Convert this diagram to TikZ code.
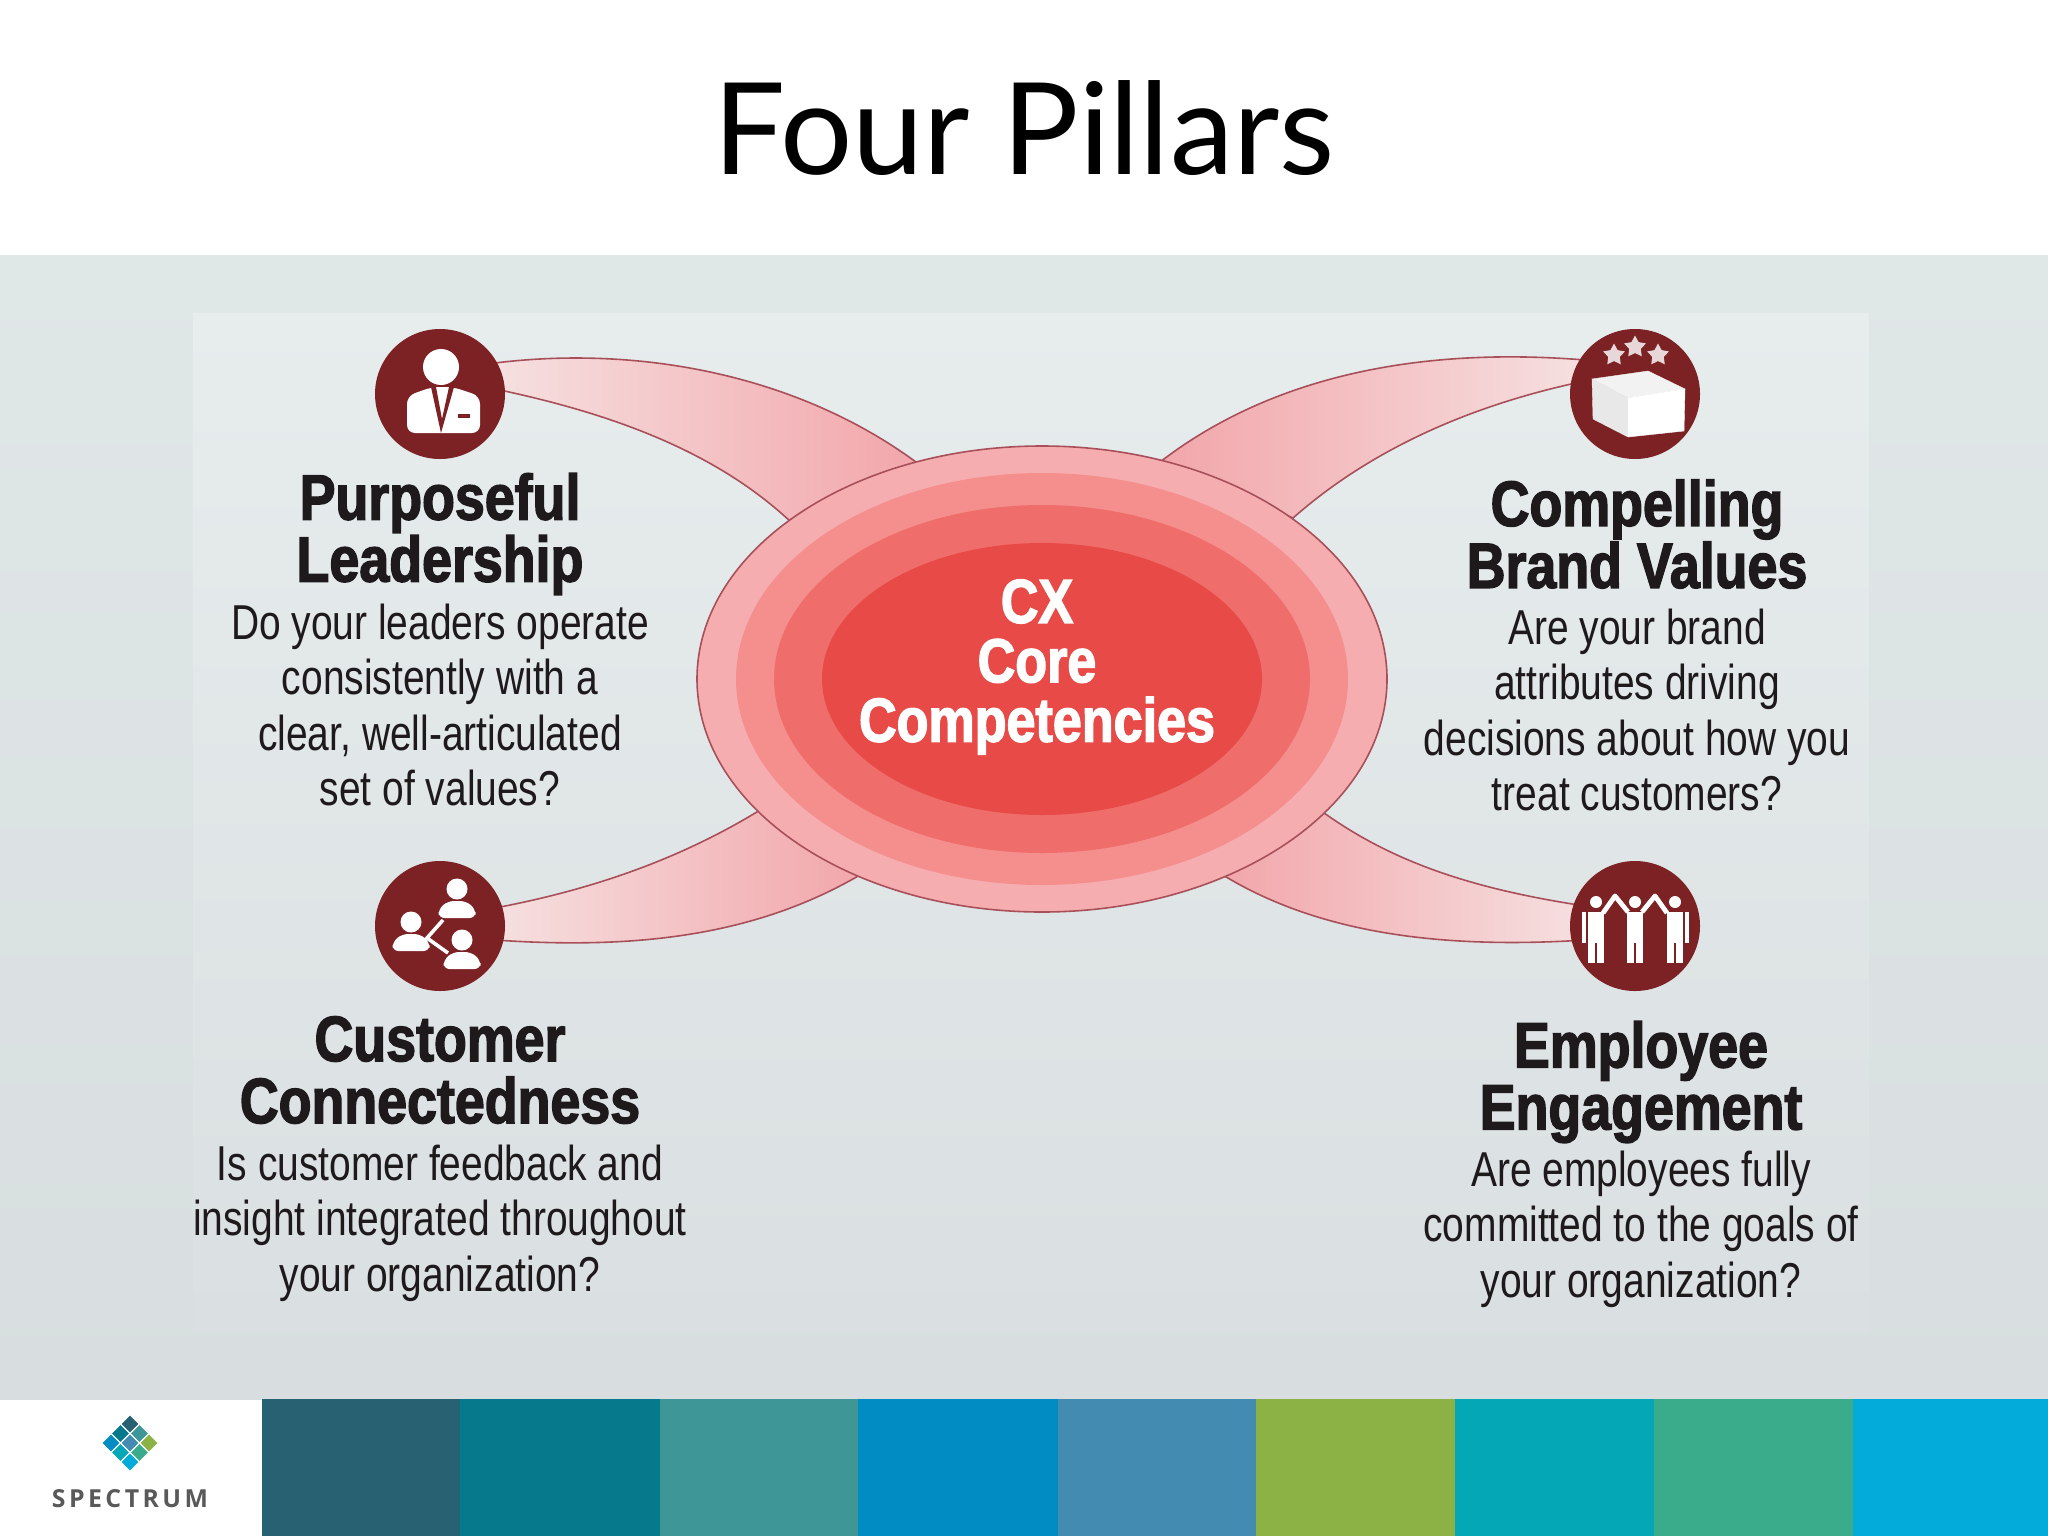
\documentclass[tikz,border=0pt]{standalone}
\usepackage{fontspec}
\usetikzlibrary{shapes.geometric}
\setmainfont{Liberation Sans}
\newfontfamily\titlefont{Lato}
\newfontfamily\headfont[FakeStretch=0.84,FakeBold=2.2]{Liberation Sans Bold}
\newfontfamily\bodyfont[FakeStretch=0.795]{Liberation Sans}
\newfontfamily\logofont[LetterSpace=14]{Open Sans Bold}
\definecolor{bgtop}{HTML}{E0E7E7}
\definecolor{bgbot}{HTML}{D8DEDF}
\definecolor{panelt}{HTML}{E7ECED}
\definecolor{panelb}{HTML}{DADFE1}
\definecolor{maroon}{HTML}{7C2224}
\definecolor{wingline}{HTML}{A8505A}
\definecolor{wingdark}{HTML}{F2A6AA}
\definecolor{winglight}{HTML}{F6E0E0}
\definecolor{ringA}{HTML}{F6ADB0}
\definecolor{ringB}{HTML}{F48F8E}
\definecolor{ringC}{HTML}{EF6E6B}
\definecolor{ringD}{HTML}{E84A47}
\definecolor{inkc}{HTML}{1E1A1C}
\definecolor{cA}{HTML}{286272}
\definecolor{cB}{HTML}{07798C}
\definecolor{cC}{HTML}{3E9696}
\definecolor{cD}{HTML}{028CC4}
\definecolor{cE}{HTML}{438BB0}
\definecolor{cF}{HTML}{8CB145}
\definecolor{cG}{HTML}{04A7B5}
\definecolor{cH}{HTML}{3AAC8B}
\definecolor{cI}{HTML}{02ABD9}
\tikzset{
  x=0.5pt,y=-0.5pt,
  ring/.style={ellipse,draw=none,inner sep=0pt,outer sep=0pt},
  badge/.style={circle,fill=maroon,inner sep=0pt,minimum size=65pt},
  headtext/.style={align=center,text=inkc,inner sep=0pt,font=\headfont\fontsize{32}{31}\selectfont},
  bodytext/.style={align=center,text=inkc,inner sep=0pt,font=\bodyfont\fontsize{24.5}{27.7}\selectfont},
  coretext/.style={align=center,text=white,inner sep=0pt,font=\headfont\fontsize{31}{29.7}\selectfont},
  wing/.style={draw=wingline,line width=0.8pt},
  tile/.style={diamond,inner sep=0pt,minimum size=8.6pt},
}
\begin{document}
\begin{tikzpicture}
\useasboundingbox (0,0) rectangle (2048,1536);
\fill[white] (0,0) rectangle (2048,1536);
\shade[top color=bgtop,bottom color=bgbot] (0,255) rectangle (2048,1399);
\shade[top color=panelt,bottom color=panelb] (193,313) rectangle (1869,1332);
\node (title) at (1024,128) {\titlefont\fontsize{63.8}{64}\selectfont Four Pillars};
% band
\fill[cA] (262,1399) rectangle (460,1536);
\fill[cB] (460,1399) rectangle (660,1536);
\fill[cC] (660,1399) rectangle (858,1536);
\fill[cD] (858,1399) rectangle (1058,1536);
\fill[cE] (1058,1399) rectangle (1256,1536);
\fill[cF] (1256,1399) rectangle (1455,1536);
\fill[cG] (1455,1399) rectangle (1654,1536);
\fill[cH] (1654,1399) rectangle (1853,1536);
\fill[cI] (1853,1399) rectangle (2048,1536);
% logo
\node[tile,fill=cA] (t1) at (130,1424) {};
\node[tile,fill=cB] (t2) at (120.5,1433.5) {};
\node[tile,fill=cC] (t3) at (139.5,1433.5) {};
\node[tile,fill=cD] (t4) at (111,1443) {};
\node[tile,fill=cE] (t5) at (130,1443) {};
\node[tile,fill=cF] (t6) at (149,1443) {};
\node[tile,fill=cG] (t7) at (120.5,1452.5) {};
\node[tile,fill=cH] (t8) at (139.5,1452.5) {};
\node[tile,fill=cI] (t9) at (130,1462) {};
\node[text=black!65,inner sep=0pt] (logo) at (130,1499) {\logofont\fontsize{12.4}{13}\selectfont SPECTRUM};
% wings
\shade[left color=winglight,right color=wingdark,wing] (495,363) .. controls (640,345) and (800,375) .. (920,465) -- (792,523) .. controls (720,455) and (620,415) .. (495,389) -- cycle;
\shade[left color=wingdark,right color=winglight,wing] (1160,462) .. controls (1260,385) and (1400,345) .. (1585,360) -- (1585,381) .. controls (1470,405) and (1370,450) .. (1293,518) -- cycle;
\shade[left color=winglight,right color=wingdark,wing] (495,908) .. controls (590,890) and (680,860) .. (765,807) -- (865,872) .. controls (760,935) and (640,950) .. (495,940) -- cycle;
\shade[left color=wingdark,right color=winglight,wing] (1320,810) .. controls (1395,865) and (1480,890) .. (1585,906) -- (1585,940) .. controls (1430,950) and (1310,930) .. (1218,872) -- cycle;
% ellipses
\node[ring,fill=ringA,draw=wingline,line width=0.8pt,minimum width=345pt,minimum height=233pt] (e1) at (1042,679) {};
\node[ring,fill=ringB,minimum width=306pt,minimum height=206pt] (e2) at (1042,679) {};
\node[ring,fill=ringC,minimum width=268pt,minimum height=174pt] (e3) at (1042,679) {};
\node[ring,fill=ringD,minimum width=220pt,minimum height=136pt] (e4) at (1042,679) {};
\node[coretext] (core) at (1037,667) {CX\\Core\\Competencies};
% badges
\node[badge] (b1) at (440,394) {};
\node[badge] (b2) at (1635,394) {};
\node[badge] (b3) at (440,926) {};
\node[badge] (b4) at (1635,926) {};
% suit icon
\fill[white] (441,367) circle (18);
\fill[white,rounded corners=4pt] (407,433) -- (407,396) -- (432,387) -- (453,387) -- (480,396) -- (480,433) -- cycle;
\fill[maroon] (431,387) -- (441,433) -- (454,387) -- (449,387) -- (442,419) -- (436,387) -- cycle;
\fill[maroon] (458,414) rectangle (470,418);
% cube icon
\fill[white!90!gray,draw=white!90!gray,line width=0.2pt] (1592,379) -- (1648,371) -- (1685,389) -- (1628,398) -- cycle;
\fill[white!82!gray,draw=white!82!gray,line width=0.2pt] (1592,379) -- (1628,398) -- (1628,437) -- (1593,419) -- cycle;
\fill[white,draw=white,line width=0.2pt] (1628,398) -- (1685,389) -- (1684,431) -- (1628,437) -- cycle;
\foreach \n/\px/\py in {s1/1614/355,s2/1635/347,s3/1658/355}
  \node[star,star points=5,star point ratio=1.9,fill=white!82!maroon,inner sep=0pt,minimum size=11.5pt] (\n) at (\px,\py) {};
% people icon
\draw[white,line width=1.8pt] (443,920) -- (427,938) -- (448,953);
\foreach \hx/\hy in {457/889,411/922,462/940}{
  \fill[white] (\hx,\hy) circle (10.5);
  \fill[white,rounded corners=3pt] ([shift={(-18.5,29)}]\hx,\hy) -- ([shift={(-18.5,20)}]\hx,\hy) -- ([shift={(-9,12)}]\hx,\hy) -- ([shift={(9,12)}]\hx,\hy) -- ([shift={(18.5,20)}]\hx,\hy) -- ([shift={(18.5,29)}]\hx,\hy) -- cycle;
}
% team icon
\foreach \fx in {1596,1635,1675}{
  \fill[white] (\fx,902) circle (6);
  \fill[white] (\fx-8,912) rectangle (\fx+8,943);
  \fill[white] (\fx-8,940) rectangle (\fx-1,963);
  \fill[white] (\fx+1,940) rectangle (\fx+8,963);
}
\draw[white,line width=2.4pt,line join=round] (1603,913) -- (1615,896) -- (1628,912);
\draw[white,line width=2.4pt,line join=round] (1642,912) -- (1655,896) -- (1667,913);
\draw[white,line width=2pt] (1584,912) -- (1584,943);
\draw[white,line width=2pt] (1687,912) -- (1687,943);
% texts
\node[headtext] (h1) at (440,534) {Purposeful\\Leadership};
\node[bodytext] (d1) at (440,705) {Do your leaders operate\\consistently with a\\clear, well-articulated\\set of values?};
\node[headtext] (h2) at (1637,534) {Compelling\\Brand Values};
\node[bodytext] (d2) at (1637,710) {Are your brand\\attributes driving\\decisions about how you\\treat customers?};
\node[headtext] (h3) at (440,1070) {Customer\\Connectedness};
\node[bodytext] (d3) at (440,1223) {Is customer feedback and\\insight integrated throughout\\your organization?};
\node[headtext] (h4) at (1641,1082) {Employee\\Engagement};
\node[bodytext] (d4) at (1641,1229) {Are employees fully\\committed to the goals of\\your organization?};
\end{tikzpicture}
\end{document}
